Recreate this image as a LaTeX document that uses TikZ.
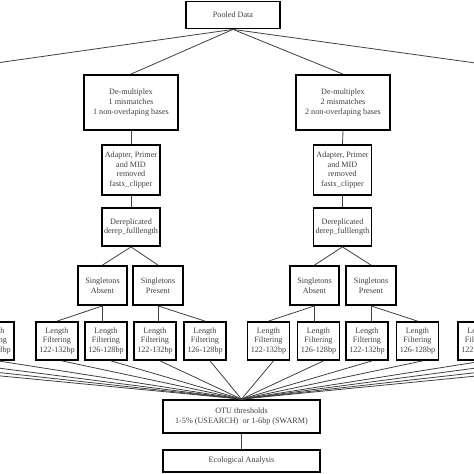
\documentclass[tikz,border=0pt]{standalone}
\usepackage{fontspec}
\setmainfont{Liberation Serif}
\begin{document}
\begin{tikzpicture}[x=1bp,y=-1bp,
 box/.style={draw=black, line width=1.8bp, fill=white, align=center, inner sep=0pt,
   font=\fontsize{8.2}{9.9}\selectfont, text=black!75},
 lfbox/.style={box, minimum width=42bp, minimum height=38bp},
 conn/.style={draw=black!75, line width=0.8bp}]
\useasboundingbox (0,0) rectangle (474,474);
\clip (0,0) rectangle (474,474);

% top
\node[box, minimum width=94bp, minimum height=27bp] (pool) at (233,15) {Pooled Data};
\coordinate (dm0) at (-81,74);
\coordinate (dm3) at (555,74);

\node[box, minimum width=94bp, minimum height=55bp] (dm1) at (131,102.5)
  {De-multiplex\\1 mismatches\\1 non-overlaping bases};
\node[box, minimum width=94bp, minimum height=55bp] (dm2) at (343,102.5)
  {De-multiplex\\2 mismatches\\2 non-overlaping bases};

\node[box, minimum width=58bp, minimum height=50bp] (ad1) at (131,170)
  {Adapter, Primer\\and MID\\removed\\fastx\_clipper};
\node[box, minimum width=58bp, minimum height=50bp] (ad2) at (342.5,170)
  {Adapter, Primer\\and MID\\removed\\fastx\_clipper};

\node[box, minimum width=58bp, minimum height=38bp] (dr1) at (131,227)
  {Dereplicated\\derep\_fulllength};
\node[box, minimum width=58bp, minimum height=38bp] (dr2) at (342.5,227)
  {Dereplicated\\derep\_fulllength};

\node[box, minimum width=49bp, minimum height=39bp] (sa1) at (102.5,285.5) {Singletons\\Absent};
\node[box, minimum width=50bp, minimum height=39bp] (sp1) at (158,285.5) {Singletons\\Present};
\node[box, minimum width=49bp, minimum height=39bp] (sa2) at (314.5,285.5) {Singletons\\Absent};
\node[box, minimum width=50bp, minimum height=39bp] (sp2) at (371,285.5) {Singletons\\Present};

% length filtering
\coordinate (lfa) at (-155,321);
\coordinate (lfb) at (-106,321);
\coordinate (lfc) at (-57,321);
\node[lfbox] (lf0) at (-7,341) {Length\\Filtering\\126-128bp};
\node[lfbox] (lf1) at (57,341) {Length\\Filtering\\122-132bp};
\node[lfbox] (lf2) at (106,341) {Length\\Filtering\\126-128bp};
\node[lfbox] (lf3) at (155,341) {Length\\Filtering\\122-132bp};
\node[lfbox] (lf4) at (205,341) {Length\\Filtering\\126-128bp};
\node[lfbox] (lf5) at (268.5,341) {Length\\Filtering\\122-132bp};
\node[lfbox] (lf6) at (318.5,341) {Length\\Filtering\\126-128bp};
\node[lfbox] (lf7) at (367,341) {Length\\Filtering\\122-132bp};
\node[lfbox] (lf8) at (417.5,341) {Length\\Filtering\\126-128bp};
\node[lfbox] (lf9) at (479,341) {Length\\Filtering\\122-132bp};
\coordinate (lfx) at (529,361);
\coordinate (lfy) at (579,361);
\coordinate (lfz) at (629,361);

\node[box, minimum width=157bp, minimum height=33bp] (otu) at (241.5,416.5)
  {OTU thresholds\\1-5\% (USEARCH)\ \ or 1-6bp (SWARM)};
\node[box, minimum width=157bp, minimum height=22bp] (eco) at (241.5,461)
  {Ecological Analysis};

% connectors
\draw[conn] (pool.south) -- (dm0);
\draw[conn] (pool.south) -- (dm1.north);
\draw[conn] (pool.south) -- (dm2.north);
\draw[conn] (pool.south) -- (dm3);

\draw[conn] (dm1.south) -- (ad1.north);
\draw[conn] (dm2.south) -- (ad2.north);
\draw[conn] (ad1.south) -- (dr1.north);
\draw[conn] (ad2.south) -- (dr2.north);

\draw[conn] (dr1.south) -- (sa1.north);
\draw[conn] (dr1.south) -- (sp1.north);
\draw[conn] (dr2.south) -- (sa2.north);
\draw[conn] (dr2.south) -- (sp2.north);

\draw[conn] (sa1.south) -- (lf1.north);
\draw[conn] (sa1.south) -- (sa1.south |- lf2.north);
\draw[conn] (sp1.south) -- (sp1.south |- lf3.north);
\draw[conn] (sp1.south) -- (lf4.north);
\draw[conn] (sa2.south) -- (lf5.north);
\draw[conn] (sa2.south) -- (sa2.south |- lf6.north);
\draw[conn] (sp2.south) -- (sp2.south |- lf7.north);
\draw[conn] (sp2.south) -- (lf8.north);

\coordinate (lfa0) at (-155,361);
\coordinate (lfb0) at (-106,361);
\coordinate (lfc0) at (-57,361);
\foreach \n in {lfa0,lfb0,lfc0,lfx,lfy,lfz}
  \draw[conn] (\n) -- (otu.north);
\foreach \n in {lf0,lf1,lf2,lf3,lf4,lf5,lf6,lf7,lf8,lf9}
  \draw[conn] ([xshift=5bp]\n.south) -- (otu.north);

\draw[conn] (otu.south) -- (eco.north);
\end{tikzpicture}
\end{document}
